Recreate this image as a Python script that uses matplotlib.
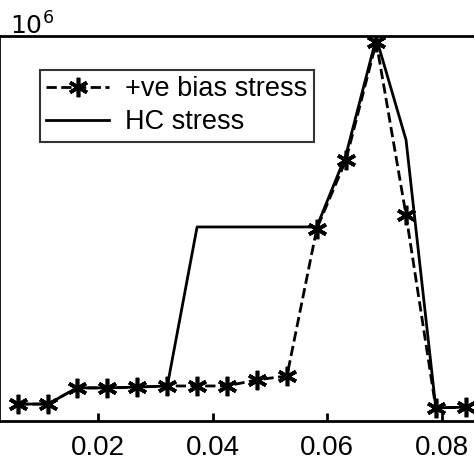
import matplotlib
matplotlib.use("Agg")
import matplotlib.pyplot as plt

plt.rcParams['font.family'] = ['Liberation Sans', 'DejaVu Sans']

x = [0.00603, 0.01127, 0.0163, 0.0216, 0.0268, 0.0321, 0.0373, 0.0425, 0.0478, 0.0530,
     0.0582, 0.0633, 0.0686, 0.0738, 0.0790, 0.0843]
bias = [0.044, 0.044, 0.086, 0.086, 0.088, 0.091, 0.091, 0.091, 0.107, 0.117,
        0.499, 0.678, 0.984, 0.535, 0.034, 0.036]
hc = [0.044, 0.044, 0.086, 0.086, 0.088, 0.091, 0.504, 0.504, 0.504, 0.504,
      0.504, 0.691, 0.995, 0.730, 0.034, 0.036]
bias = [v * 1e6 for v in bias]
hc = [v * 1e6 for v in hc]

fig = plt.figure(figsize=(4.74, 4.74), dpi=100)
ax = fig.add_axes([-0.002, 53/474, 1.2, 385/474])
ax.plot(x, bias, 'k--', marker=(6, 2, 0), markersize=14, markeredgewidth=2.6, lw=2, label='+ve bias stress')
ax.plot(x, hc, 'k-', lw=2, label='HC stress')
ax.set_xlim(0.00271, 0.00271 + 1.2*474/5725)
ax.set_ylim(0, 1e6)
ax.set_xticks([0.02, 0.04, 0.06, 0.08])
ax.set_xticklabels(['0.02', '0.04', '0.06', '0.08'])
ax.set_yticks([])
for s in ax.spines.values():
    s.set_linewidth(2)
ax.tick_params(axis='x', direction='in', length=6, width=2, labelsize=20, pad=10)
fig.text(10/474, 1 - 26/474, r'$10^6$', fontsize=18, va='center', ha='left')
leg = ax.legend(loc='upper left', bbox_to_anchor=(27/(1.2*474), 1 - 20/385), fontsize=19.5,
                frameon=True, fancybox=False, edgecolor='black', handlelength=2.3,
                borderpad=0.25, labelspacing=0.25, handletextpad=0.6)
leg.get_frame().set_linewidth(1.5)
fig.savefig('out.png', dpi=100)
